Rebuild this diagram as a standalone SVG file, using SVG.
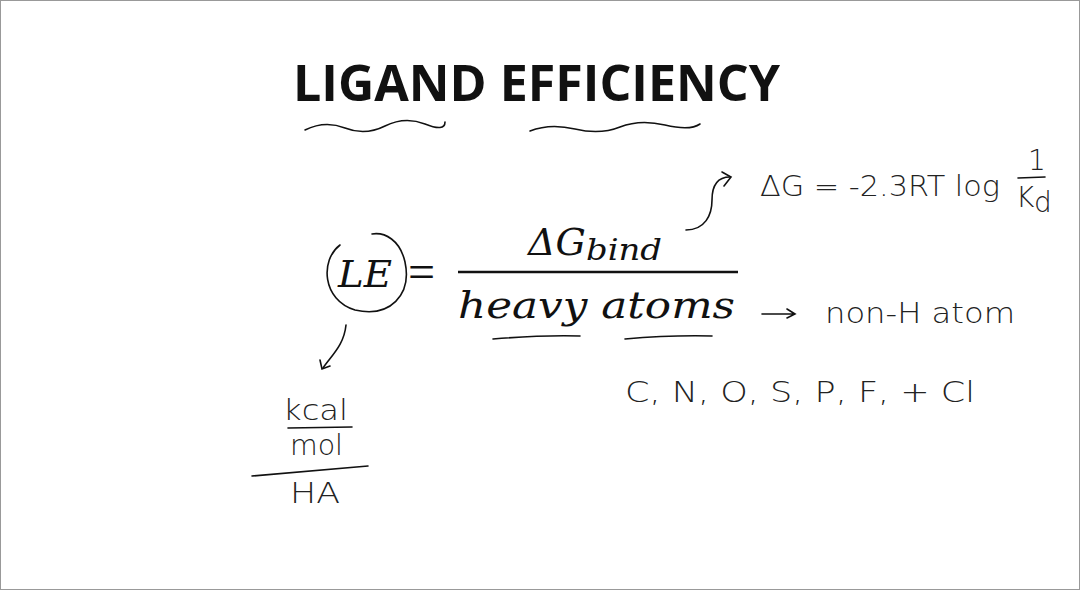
<svg xmlns="http://www.w3.org/2000/svg" width="1080" height="590" viewBox="0 0 1080 590">
<style>
.hw{font-family:"DejaVu Sans","Liberation Sans",sans-serif;font-size:28px;fill:#222;font-weight:200}
.ink{fill:none;stroke:#111;stroke-width:1.6;stroke-linecap:round}
.math{font-family:"DejaVu Serif","Liberation Serif",serif;font-style:italic;fill:#111}
</style>
<rect x="0.5" y="0.5" width="1079" height="589" fill="#fff" stroke="#999"/>
<g id="title"><text x="293" y="101" font-family="'Open Sans',sans-serif" font-weight="bold" font-size="50" textLength="487" lengthAdjust="spacingAndGlyphs" fill="#111">LIGAND EFFICIENCY</text>
<path class="ink" d="M305,130 q20,-10 40,-2 t40,-2 t40,-2 t20,-2"/>
<path class="ink" d="M530,131 q20,-8 45,-2 t45,-2 t45,-2 t35,-1"/></g>
<g id="le"><text class="math" x="338" y="287" font-size="38" textLength="54" lengthAdjust="spacingAndGlyphs">LE</text>
<path class="ink" d="M340,245 C320,260 322,300 355,310 C390,318 412,295 405,262 C400,240 385,232 372,234"/>
<text x="408" y="288" font-family="'Liberation Serif',serif" font-size="48" fill="#111">=</text></g>
<g id="fraction"><text class="math" x="528" y="255" font-size="38" font-style="normal">ΔG</text>
<text class="math" x="586" y="260" font-size="30" textLength="76" lengthAdjust="spacingAndGlyphs">bind</text>
<line x1="458" y1="272" x2="738" y2="272" stroke="#111" stroke-width="2.5"/>
<text class="math" x="458" y="318" font-size="38" textLength="277" lengthAdjust="spacingAndGlyphs">heavy atoms</text>
<path class="ink" d="M493,339 Q540,335 580,336"/><path class="ink" d="M625,339 Q670,335 712,336"/></g>
<g id="dg"><path class="ink" d="M686,230 C705,230 712,215 712,200 C712,185 718,177 730,177"/><path class="ink" d="M722,172 L731,177 L724,186"/>
<text class="hw" x="760" y="196" textLength="240" lengthAdjust="spacingAndGlyphs">ΔG = -2.3RT log</text>
<text class="hw" x="1028" y="170" font-size="20">1</text><line class="ink" x1="1018" y1="178" x2="1045" y2="177"/>
<text class="hw" x="1016" y="207" font-size="22">K</text><text class="hw" x="1034" y="212" font-size="15">d</text></g>
<g id="nonh"><path class="ink" d="M762,314 H794 M787,309 L795,314 L787,318"/>
<text class="hw" x="825" y="323" textLength="190" lengthAdjust="spacingAndGlyphs">non-H atom</text>
<text class="hw" x="625" y="402" textLength="350" lengthAdjust="spacingAndGlyphs">C, N, O, S, P, F, + Cl</text></g>
<g id="units"><path class="ink" d="M346,325 C344,345 332,355 323,368"/><path class="ink" d="M320,360 L322,369 L330,366"/>
<text class="hw" x="283" y="420" textLength="65" lengthAdjust="spacingAndGlyphs">kcal</text>
<line class="ink" x1="288" y1="428" x2="352" y2="427"/>
<text class="hw" x="290" y="455" textLength="53" lengthAdjust="spacingAndGlyphs">mol</text>
<line class="ink" x1="252" y1="476" x2="368" y2="466"/>
<text class="hw" x="290" y="503" textLength="50" lengthAdjust="spacingAndGlyphs">HA</text></g>
</svg>
